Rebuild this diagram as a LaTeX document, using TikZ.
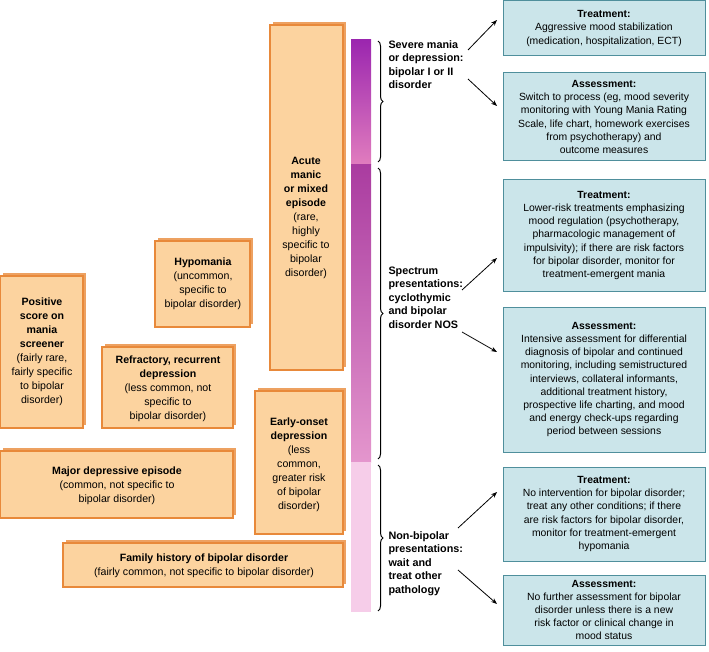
\documentclass[tikz,border=0pt]{standalone}
\usepackage{fontspec}
\setmainfont{Liberation Sans}
\usetikzlibrary{decorations.pathreplacing,arrows.meta}
\definecolor{ofill}{HTML}{FCD39F}
\definecolor{oedge}{HTML}{E8893A}
\definecolor{tfill}{HTML}{CBE5EA}
\definecolor{tedge}{HTML}{4F8F9C}
\definecolor{p1t}{RGB}{155,38,175}
\definecolor{p1b}{RGB}{225,125,190}
\definecolor{p2t}{RGB}{170,60,160}
\definecolor{p2b}{RGB}{228,150,205}
\definecolor{p3}{RGB}{246,205,233}
\begin{document}
\begin{tikzpicture}[x=1pt,y=-1pt,
 obox/.style={fill=ofill,draw=oedge,line width=1.2pt},
 otext/.style={align=center,font=\fontsize{10.6}{14}\selectfont},
 tbox/.style={fill=tfill,draw=tedge,line width=1pt},
 ttext/.style={align=center,font=\fontsize{10.4}{13.2}\selectfont},
 ltext/.style={align=left,anchor=north west,font=\bfseries\fontsize{10.8}{13.5}\selectfont},
 arr/.style={-{Stealth[length=6pt]},line width=0.8pt},
 br/.style={decorate,decoration={brace,amplitude=5pt},line width=1pt}]
\useasboundingbox (0,0) rectangle (709,652);
\newcommand{\obx}[5]{\fill[oedge!80] (#1+3,#2-3) rectangle (#3+3,#4-3);
 \draw[obox] (#1,#2) rectangle (#3,#4);
 \coordinate (#5) at ({(#1+#3)/2},{(#2+#4)/2});}
\obx{270}{25}{343}{370}{acute}
\node[otext] (acuteT) at (306,218) {\textbf{Acute}\\\textbf{manic}\\\textbf{or mixed}\\\textbf{episode}\\(rare,\\highly\\specific to\\bipolar\\disorder)};
\obx{155}{241}{250}{327}{hypo}
\node[otext] (hypoT) at (203,284) {\textbf{Hypomania}\\(uncommon,\\specific to\\bipolar disorder)};
\obx{0}{276}{83}{428}{pos}
\node[otext] (posT) at (42,352) {\textbf{Positive}\\\textbf{score on}\\\textbf{mania}\\\textbf{screener}\\(fairly rare,\\fairly specific\\to bipolar\\disorder)};
\obx{102}{347}{233}{428}{refr}
\node[otext] (refrT) at (168,389) {\textbf{Refractory, recurrent}\\\textbf{depression}\\(less common, not\\specific to\\bipolar disorder)};
\obx{255}{391}{343}{534}{early}
\node[otext] (earlyT) at (299,465) {\textbf{Early-onset}\\\textbf{depression}\\(less\\common,\\greater risk\\of bipolar\\disorder)};
\obx{0}{451}{233}{518}{major}
\node[otext] (majorT) at (117,486) {\textbf{Major depressive episode}\\(common, not specific to\\bipolar disorder)};
\obx{63}{543}{343}{587}{fam}
\node[otext] (famT) at (204,566) {\textbf{Family history of bipolar disorder}\\(fairly common, not specific to bipolar disorder)};
\shade[top color=p1t,bottom color=p1b] (351,40) rectangle (371,165);
\shade[top color=p2t,bottom color=p2b] (351,165) rectangle (371,462);
\fill[p3] (351,462) rectangle (371,612);
\draw[br] (378,41) -- (378,162);
\draw[br] (378,168) -- (378,459);
\draw[br] (378,465) -- (378,611);
\node[ltext] (l1) at (385,37) {Severe mania\\or depression:\\bipolar I or II\\disorder};
\node[ltext] (l2) at (385,263) {Spectrum\\presentations:\\cyclothymic\\and bipolar\\disorder NOS};
\node[ltext] (l3) at (385,528) {Non-bipolar\\presentations:\\wait and\\treat other\\pathology};
\newcommand{\tbx}[4]{\draw[tbox] (503,#1) rectangle (705,#2); \node[ttext] (#3) at (604,{(#1+#2)/2}) {#4};}
\tbx{1}{56}{t1}{\textbf{Treatment:}\\Aggressive mood stabilization\\(medication, hospitalization, ECT)}
\tbx{73}{161}{a1}{\textbf{Assessment:}\\Switch to process (eg, mood severity\\monitoring with Young Mania Rating\\Scale, life chart, homework exercises\\from psychotherapy) and\\outcome measures}
\tbx{180}{291}{t2}{\textbf{Treatment:}\\Lower-risk treatments emphasizing\\mood regulation (psychotherapy,\\pharmacologic management of\\impulsivity); if there are risk factors\\for bipolar disorder, monitor for\\treatment-emergent mania}
\tbx{307}{452}{a2}{\textbf{Assessment:}\\Intensive assessment for differential\\diagnosis of bipolar and continued\\monitoring, including semistructured\\interviews, collateral informants,\\additional treatment history,\\prospective life charting, and mood\\and energy check-ups regarding\\period between sessions}
\tbx{467}{561}{t3}{\textbf{Treatment:}\\No intervention for bipolar disorder;\\treat any other conditions; if there\\are risk factors for bipolar disorder,\\monitor for treatment-emergent\\hypomania}
\tbx{575}{645}{a3}{\textbf{Assessment:}\\No further assessment for bipolar\\disorder unless there is a new\\risk factor or clinical change in\\mood status}
\coordinate (s1) at (468,50); \coordinate (s2) at (468,79);
\coordinate (s3) at (462,290); \coordinate (s4) at (462,332);
\coordinate (s5) at (458,528); \coordinate (s6) at (458,570);
\coordinate (e1) at (497,20); \coordinate (e2) at (497,106);
\coordinate (e3) at (497,258); \coordinate (e4) at (497,352);
\coordinate (e5) at (497,492); \coordinate (e6) at (497,604);
\foreach \i in {1,...,6} \draw[arr] (s\i) -- (e\i);
\end{tikzpicture}
\end{document}
